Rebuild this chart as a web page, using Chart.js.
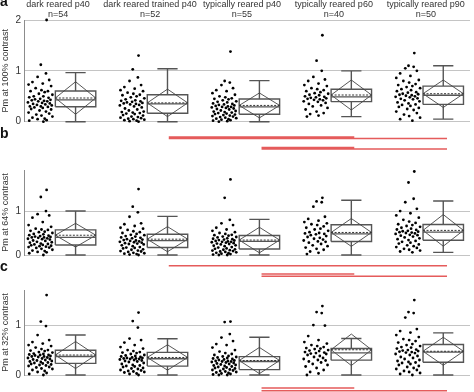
<!DOCTYPE html>
<html>
<head>
<meta charset="utf-8">
<script src="https://cdn.jsdelivr.net/npm/chart.js@4.4.1/dist/chart.umd.min.js"></script>
<style>
  html, body { margin: 0; padding: 0; background: #fff; }
  #wrap { position: relative; width: 474px; height: 392px; overflow: hidden; font-family: "Liberation Sans", Arial, sans-serif; }
  #wrap canvas { position: absolute; left: 0; }
  .tag { position: absolute; left: 0; font-weight: bold; font-size: 14px; line-height: 14px; color: #111; }
</style>
</head>
<body>
<div id="wrap">
  <canvas id="pa" width="474" height="128" style="top:0px"></canvas>
  <canvas id="pb" width="474" height="116" style="top:146px"></canvas>
  <canvas id="pc" width="474" height="116" style="top:266px"></canvas>
  <canvas id="s1" width="474" height="30" style="top:127px"></canvas>
  <canvas id="s2" width="474" height="30" style="top:256px"></canvas>
  <canvas id="s3" width="474" height="14" style="top:378px"></canvas>
  <div class="tag" style="top:-6px">a</div>
  <div class="tag" style="top:126px">b</div>
  <div class="tag" style="top:259px">c</div>
</div>
<script>
// groups and sample sizes
const GROUPS = ["dark reared p40", "dark reared trained p40", "typically reared p40", "typically reared p60", "typically reared p90"];
const N = [54, 52, 55, 40, 50];
const Y_TITLES = ["Pm at 100% contrast", "Pm at 64% contrast", "Pm at 32% contrast"];
const Y_MAX = [2, 1.934, 1.702];
const Y_TICKS = [[0, 1, 2], [0, 1], [0, 1]];

// box stats per group: [whisker low, q1, median, q3, whisker high, mean, diamond half-height]
const BOX_A = [[0, .295, .43, .604, .965, .466, .32], [0, .165, .35, .53, 1.04, .37, .27], [0, .146, .29, .447, .807, .32, .245], [.10, .394, .49, .638, 1.0, .525, .295], [.05, .34, .52, .70, 1.10, .55, .27]];
const BOX_B = [[0, .227, .40, .571, 1.0, .45, .27], [0, .17, .325, .473, .878, .36, .285], [0, .135, .31, .442, .81, .34, .29], [0, .307, .48, .687, 1.247, .513, .317], [.06, .337, .52, .694, 1.228, .56, .36]];
const BOX_C = [[0, .232, .37, .497, .80, .40, .27], [0, .178, .325, .454, .725, .351, .254], [0, .108, .27, .368, .757, .29, .262], [0, .297, .443, .53, .73, .505, .315], [0, .254, .46, .611, .843, .475, .28]];

// individual cells (Pm), per group
const DOTS_A = [
  [2.0,1.12,.95,.88,.82,.78,.75,.73,.7,.66,.62,.6,.6,.58,.55,.53,.5,.5,.48,.47,.45,.44,.43,.42,.41,.4,.4,.38,.37,.36,.35,.34,.33,.32,.3,.3,.29,.28,.27,.25,.24,.22,.2,.18,.16,.14,.12,.1,.08,.06,.05,.03,.02,0],
  [1.3,1.03,.87,.8,.72,.68,.65,.62,.6,.57,.55,.53,.52,.5,.48,.46,.44,.42,.41,.4,.39,.38,.37,.36,.35,.34,.33,.32,.3,.28,.26,.24,.22,.2,.19,.18,.17,.16,.15,.13,.12,.1,.09,.08,.07,.06,.05,.04,.03,.02,.01,0],
  [1.38,.8,.77,.72,.66,.62,.6,.56,.53,.5,.48,.46,.45,.44,.42,.4,.39,.38,.36,.35,.34,.33,.32,.31,.3,.29,.29,.28,.27,.26,.25,.24,.22,.21,.2,.19,.18,.17,.16,.15,.14,.13,.12,.11,.1,.09,.08,.07,.06,.05,.04,.03,.02,.01,0],
  [1.7,1.2,1.0,.88,.83,.8,.75,.72,.7,.66,.64,.62,.6,.58,.56,.55,.53,.52,.5,.49,.48,.47,.46,.45,.44,.43,.42,.4,.39,.37,.35,.32,.3,.27,.24,.2,.17,.15,.12,.1],
  [1.35,1.1,1.08,1.05,1.0,.95,.9,.86,.82,.8,.77,.74,.72,.7,.68,.66,.64,.62,.6,.58,.57,.55,.54,.53,.52,.51,.5,.49,.48,.46,.45,.44,.42,.4,.38,.36,.34,.33,.31,.29,.27,.25,.23,.2,.17,.14,.11,.08,.05,.02]
];
const DOTS_B = [
  [1.48,1.32,1.0,.93,.9,.85,.75,.68,.64,.6,.58,.57,.55,.53,.52,.5,.48,.47,.45,.44,.43,.42,.41,.4,.4,.39,.38,.37,.36,.35,.33,.32,.3,.29,.28,.26,.25,.24,.23,.22,.21,.2,.19,.18,.17,.16,.14,.12,.1,.09,.07,.06,.04,0],
  [1.5,1.1,.97,.87,.72,.7,.66,.62,.6,.57,.54,.52,.5,.48,.46,.45,.43,.42,.4,.39,.38,.36,.35,.34,.33,.32,.31,.3,.29,.28,.27,.26,.25,.24,.22,.2,.18,.17,.16,.15,.13,.12,.1,.09,.08,.07,.05,.04,.03,.02,.01,0],
  [1.72,1.3,.8,.72,.68,.62,.58,.55,.52,.5,.48,.46,.45,.44,.42,.41,.4,.38,.37,.36,.35,.34,.33,.32,.31,.3,.3,.29,.28,.27,.26,.25,.24,.22,.21,.2,.18,.17,.15,.14,.13,.12,.11,.1,.09,.08,.07,.06,.05,.04,.03,.02,.01,0,0],
  [1.3,1.22,1.2,1.1,.87,.82,.78,.75,.72,.7,.68,.65,.62,.6,.58,.55,.52,.5,.49,.48,.47,.45,.43,.41,.39,.37,.35,.33,.31,.3,.28,.25,.22,.2,.17,.14,.12,.08,.05,.02],
  [1.9,1.65,1.28,1.2,1.05,1.0,.95,.9,.85,.8,.76,.73,.7,.68,.66,.64,.62,.6,.58,.57,.55,.54,.53,.52,.51,.5,.49,.48,.46,.45,.44,.42,.4,.38,.36,.34,.32,.3,.28,.26,.24,.22,.2,.18,.16,.14,.12,.1,.08,.06]
];
const DOTS_C = [
  [1.6,1.07,.98,.8,.7,.66,.63,.6,.58,.55,.52,.5,.49,.48,.46,.45,.43,.42,.41,.4,.4,.39,.38,.37,.37,.36,.35,.34,.33,.32,.31,.3,.29,.28,.27,.26,.25,.24,.23,.22,.21,.2,.19,.18,.16,.15,.13,.12,.1,.08,.06,.04,.02,0],
  [1.25,1.08,.95,.73,.7,.65,.6,.56,.53,.5,.48,.46,.45,.44,.42,.4,.39,.38,.37,.36,.35,.34,.34,.33,.33,.32,.32,.31,.3,.29,.28,.27,.26,.24,.22,.2,.19,.18,.17,.16,.14,.13,.12,.1,.09,.08,.07,.06,.05,.03,.02,0],
  [1.07,1.06,.82,.75,.68,.62,.6,.55,.5,.47,.44,.42,.4,.38,.37,.36,.35,.34,.33,.32,.31,.3,.29,.28,.28,.27,.27,.26,.25,.24,.23,.22,.21,.2,.19,.18,.17,.16,.15,.14,.13,.12,.11,.1,.09,.08,.07,.06,.05,.04,.03,.02,.01,0,0],
  [1.38,1.26,1.24,1.0,.99,.78,.7,.66,.63,.6,.58,.56,.54,.53,.52,.5,.49,.48,.46,.45,.44,.43,.42,.4,.38,.36,.34,.32,.3,.29,.27,.25,.22,.2,.17,.14,.1,.06,.03,0],
  [1.5,1.26,1.24,1.15,.92,.88,.85,.8,.76,.72,.7,.68,.65,.62,.6,.58,.56,.55,.53,.51,.5,.49,.48,.47,.46,.45,.44,.42,.4,.38,.36,.34,.32,.3,.28,.26,.25,.24,.22,.2,.18,.16,.14,.12,.1,.08,.06,.04,.02,0]
];
// horizontal spread of the dots, -1..1 (reused by index)
const JITTER = [0.5,0.05,0.45,-0.2,0.7,-0.6,0.2,-0.9,0.85,-0.35,0.1,0.6,-0.75,0.35,-0.1,0.95,-0.5,0.25,-0.85,0.65,0.0,-0.4,0.8,-0.65,0.3,-0.15,0.55,-0.95,0.15,0.75,-0.55,0.4,-0.25,0.9,-0.8,0.05,0.6,-0.45,0.2,-0.7,0.85,-0.05,0.45,-0.9,0.7,-0.3,0.1,0.95,-0.6,0.35,-0.2,0.5,-0.85,0.25,-0.4];

// significant pairs: [group from, group to, tier]
const SIG_AB = [[2, 4, 0], [2, 5, 0.15], [3, 4, 1.05], [3, 5, 1.2]];
const SIG_BC = [[2, 5, -0.03], [3, 4, 0.8], [3, 5, 1.03]];
const SIG_C = [[3, 4, 0], [3, 5, 0.27]];

// layout / style
const X_MIN = 0.439, X_MAX = 5.291;
const BOX_HALF = 0.22, CAP_HALF = 0.11, DOT_SHIFT = 0.385, DOT_SPREAD = 0.14, LABEL_SHIFT = 0.19;
const FONT = '"Liberation Sans", Arial, sans-serif';
const LINE = '#555', SIG_COLOR = 'rgba(224,62,62,0.85)';

function seg(arr, pts) {
  pts.forEach(p => arr.push({ x: p[0], y: p[1] }));
  arr.push({ x: pts[0][0], y: null });
}

function lineSet(data, color, width, dash) {
  return { type: 'line', data, borderColor: color, borderWidth: width, borderDash: dash || [],
    pointRadius: 0, showLine: true, spanGaps: false, fill: false, tension: 0, clip: false };
}

function panelDatasets(stats, dots) {
  const box = [], whisk = [], med = [], mean = [], dia = [], pts = [];
  stats.forEach((s, i) => {
    const g = i + 1, [lo, q1, md, q3, hi, mu, ci] = s, l = g - BOX_HALF, r = g + BOX_HALF;
    seg(box, [[l, q1], [r, q1], [r, q3], [l, q3], [l, q1]]);
    seg(whisk, [[g, q3], [g, hi]]);
    seg(whisk, [[g - CAP_HALF, hi], [g + CAP_HALF, hi]]);
    seg(whisk, [[g, q1], [g, lo]]);
    seg(whisk, [[g - CAP_HALF, lo], [g + CAP_HALF, lo]]);
    seg(med, [[l, md], [r, md]]);
    seg(mean, [[l, mu], [r, mu]]);
    seg(dia, [[l, mu], [g, mu + ci], [r, mu], [g, mu - ci], [l, mu]]);
    dots[i].forEach((v, k) => pts.push({ x: g - DOT_SHIFT + JITTER[k % JITTER.length] * DOT_SPREAD, y: v }));
  });
  return [
    { type: 'scatter', data: pts, showLine: false, pointRadius: 1.4, pointBackgroundColor: '#000', pointBorderWidth: 0, clip: false },
    lineSet(mean, '#333', 1, [2, 1.5]),
    lineSet(med, LINE, 1.3),
    lineSet(dia, '#444', 0.9),
    lineSet(box, LINE, 1.4),
    lineSet(whisk, LINE, 1.4)
  ];
}

function makePanel(id, p, stats, dots) {
  new Chart(document.getElementById(id), {
    type: 'line',
    data: { datasets: panelDatasets(stats, dots) },
    options: {
      responsive: false, animation: false, events: [],
      layout: { padding: { top: p === 0 ? 0 : 4, bottom: p === 0 ? 6.3 : 7, left: 0, right: 0 } },
      plugins: { legend: { display: false }, tooltip: { enabled: false } },
      scales: {
        x: {
          type: 'linear', position: 'top', min: X_MIN, max: X_MAX, bounds: 'data', display: p === 0,
          grid: { display: false, drawTicks: false }, border: { display: false },
          afterBuildTicks: s => { s.ticks = GROUPS.map((_, i) => ({ value: i + 1 - LABEL_SHIFT })); },
          afterFit: s => { s.height = 20; s.paddingLeft = 0; s.paddingRight = 0; },
          ticks: { autoSkip: false, maxRotation: 0, minRotation: 0, padding: 1, color: '#333',
            font: { family: FONT, size: 9, lineHeight: 1.1 },
            callback: (v, i) => [GROUPS[i], 'n=' + N[i]] }
        },
        y: {
          min: 0, max: Y_MAX[p], bounds: 'data',
          afterBuildTicks: s => { s.ticks = Y_TICKS[p].map(v => ({ value: v })); },
          afterFit: s => { s.width = 24; s.paddingTop = 0; s.paddingBottom = 0; },
          grid: { color: '#c4c4c4', lineWidth: 1, drawTicks: false },
          border: { display: true, color: '#8c8c8c', width: 1 },
          ticks: { color: '#333', padding: 3, font: { family: FONT, size: 10 } },
          title: { display: true, text: Y_TITLES[p], color: '#333', padding: { top: 0, bottom: 0 }, font: { family: FONT, size: 9 } }
        }
      }
    }
  });
}

function makeSig(id, comps, yMin, yMax) {
  const data = [];
  comps.forEach(c => seg(data, [[c[0], c[2]], [c[1], c[2]]]));
  new Chart(document.getElementById(id), {
    type: 'line',
    data: { datasets: [lineSet(data, SIG_COLOR, 1.5)] },
    options: {
      responsive: false, animation: false, events: [],
      layout: { padding: { left: 24, right: 0, top: 0, bottom: 0 } },
      plugins: { legend: { display: false }, tooltip: { enabled: false } },
      scales: {
        x: { type: 'linear', min: X_MIN, max: X_MAX, display: false },
        y: { min: yMin, max: yMax, reverse: true, display: false }
      }
    }
  });
}

makePanel('pa', 0, BOX_A, DOTS_A);
makePanel('pb', 1, BOX_B, DOTS_B);
makePanel('pc', 2, BOX_C, DOTS_C);
makeSig('s1', SIG_AB, -1, 2);
makeSig('s2', SIG_BC, -1, 2);
makeSig('s3', SIG_C, -1, 0.4);
</script>
</body>
</html>
